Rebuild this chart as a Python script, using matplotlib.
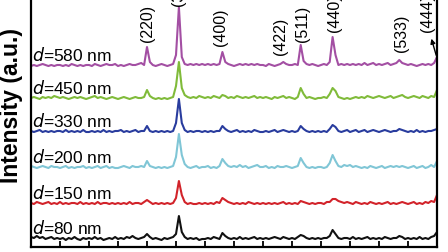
import matplotlib
matplotlib.use("Agg")
import matplotlib.pyplot as plt
import numpy as np

plt.rcParams['font.family'] = ['Liberation Sans', 'DejaVu Sans']

# 2theta grid, 10..80 deg in 0.5 deg steps
two_theta = np.arange(10, 80.01, 0.5)

# intensities (arb. units), one list per sample
d80 = [3,2,4,2,3,1,2,3,1,2, 1,2,0,2,1,3,1,0,2,1, 2,1,3,1,2,0,1,2,1,3,
       1,2,1,3,2,4,2,1,2,3, 6,3,1,2,1,0,2,1,2,3, 6,24,8,3,1,2,1,2,0,1,
       1,2,1,3,2,1,7,4,2,1, 2,1,3,1,2,1,2,3,1,2, 1,2,1,2,3,2,1,3,2,1,
       2,1,3,5,4,2,1,2,1,2, 1,2,2,4,10,6,2,1,2,2, 1,3,1,2,1,2,3,1,2,1,
       2,1,3,2,1,2,2,4,3,1, 2,1,2,1,3,1,2,1,3,4, 8]
d150 = [2,1,3,2,1,2,3,1,2,1, 3,1,2,1,2,2,1,3,1,2, 1,2,1,3,1,2,2,1,2,1,
        2,1,2,1,3,1,2,2,1,3, 5,3,1,2,1,2,1,2,1,2, 7,24,10,3,1,2,1,1,2,1,
        2,1,2,1,3,2,7,5,3,2, 1,2,1,2,1,3,2,1,2,1, 2,1,2,1,2,1,2,3,1,2,
        1,2,1,4,3,2,1,2,1,2, 2,1,3,3,6,6,4,3,2,3, 2,1,3,2,1,2,1,3,2,1,
        2,1,2,3,1,2,1,2,3,2, 1,2,3,1,2,1,3,2,4,3, 10]
d200 = [3,2,1,2,3,2,1,3,2,2, 1,2,3,1,2,1,2,2,3,1, 2,1,2,3,1,2,3,1,2,1,
        1,2,3,2,1,3,2,2,3,2, 8,3,2,1,2,1,2,1,2,3, 12,35,14,5,2,1,2,3,1,2,
        2,3,1,2,1,3,10,6,3,2, 3,2,4,2,3,1,2,3,4,2, 2,3,1,2,1,3,2,2,3,2,
        1,2,3,11,6,2,1,2,1,2, 2,1,2,6,14,8,3,2,4,3, 4,2,3,2,1,2,1,3,2,1,
        2,3,1,2,3,2,3,2,3,2, 1,2,3,1,2,3,1,2,4,2, 8]
d330 = [2,1,2,3,1,2,1,2,1,2, 2,1,3,1,2,1,2,1,3,1, 1,2,1,2,1,3,1,2,1,2,
        2,3,1,2,1,2,3,1,2,2, 7,2,1,2,1,2,1,2,1,2, 10,34,10,3,1,2,1,2,2,1,
        2,1,2,1,2,2,7,4,2,1, 2,3,1,2,1,2,1,3,2,1, 1,2,1,2,3,1,2,3,2,1,
        2,1,2,7,4,2,1,2,1,2, 1,2,1,4,8,6,2,1,2,3, 1,2,3,1,2,3,1,2,3,2,
        1,2,3,2,1,2,2,4,3,2, 1,2,1,3,1,2,1,2,2,3, 4]
d450 = [2,3,2,1,3,2,3,2,4,3, 2,3,2,1,2,3,2,3,2,1, 2,3,4,2,3,2,1,2,3,2,
        1,2,3,2,1,2,3,2,2,3, 10,4,2,1,2,1,2,1,2,3, 14,38,12,5,3,2,3,2,4,3,
        2,3,2,4,3,2,5,4,2,3, 2,4,3,2,3,2,3,4,2,3, 2,3,2,1,3,2,3,4,2,3,
        2,1,3,12,6,2,3,2,1,2, 2,3,2,6,12,9,3,2,1,2, 1,2,3,2,3,2,4,3,2,3,
        4,3,2,3,4,2,3,4,5,3, 2,3,4,3,2,4,3,2,4,3, 10]
d580 = [1,2,1,2,3,2,1,2,1,2, 2,1,2,1,3,2,1,2,1,2, 2,1,3,2,1,2,3,2,2,3,
        1,2,1,2,3,2,2,3,4,2, 20,5,2,1,2,3,2,1,2,3, 12,60,10,3,2,3,2,3,2,3,
        2,3,2,3,2,3,15,5,3,2, 1,2,3,2,3,2,3,2,3,2, 2,1,3,2,1,2,3,5,3,2,
        2,3,2,22,6,3,2,3,2,1, 2,3,2,5,30,12,2,3,2,3, 2,3,2,3,2,4,2,3,4,2,
        3,2,3,4,2,3,4,7,4,3, 2,3,2,1,2,3,2,3,2,4, 10]

series = [d80, d150, d200, d330, d450, d580]
names = ["80", "150", "200", "330", "450", "580"]
offsets = [0, 35, 71, 107, 140, 173]
colors = ["#111111", "#D2232A", "#80C6D6", "#293C9E", "#80BB3A", "#A34FA3"]

peak_labels = ["(220)", "(311)", "(400)", "(422)", "(511)", "(440)", "(533)", "(444)"]
label_x = [30.0, 35.4, 42.7, 53.0, 56.8, 62.4, 73.8, 78.4]
label_y = [198, 234, 194, 185, 198, 208, 188, 208]

fig = plt.figure(figsize=(4.48, 2.52), dpi=100)
ax = fig.add_axes([31/448, 5/252, 406/448, 257/252])

for y, name, off, c in zip(series, names, offsets, colors):
    ax.plot(two_theta, np.array(y) + off, color=c, lw=1.5)
    ax.text(10.2, off + 3, "$d$=" + name + " nm", fontsize=12.5, ha="left", va="bottom")

for lab, x, y in zip(peak_labels, label_x, label_y):
    ax.text(x, y, lab, rotation=90, fontsize=11.5, ha="center", va="bottom")

# arrow from the (444) peak up to its label
ax.annotate("", xy=(78.9, 204), xytext=(80.0, 182),
            arrowprops=dict(arrowstyle="-|>", color="k", lw=1, mutation_scale=7))

ax.set_xlim(10, 80)
ax.set_ylim(-7, 250)
ax.set_xticks(np.arange(10, 81, 5))
ax.set_xticklabels([])
ax.set_yticks([])
ax.tick_params(axis="x", direction="in", length=4, width=1.3)
for s in ax.spines.values():
    s.set_linewidth(1.6)

fig.text(0.026, 0.583, "Intensity (a.u.)", rotation=90, fontsize=16.5,
         fontweight="bold", ha="center", va="center")

fig.savefig("out.png", dpi=100)
